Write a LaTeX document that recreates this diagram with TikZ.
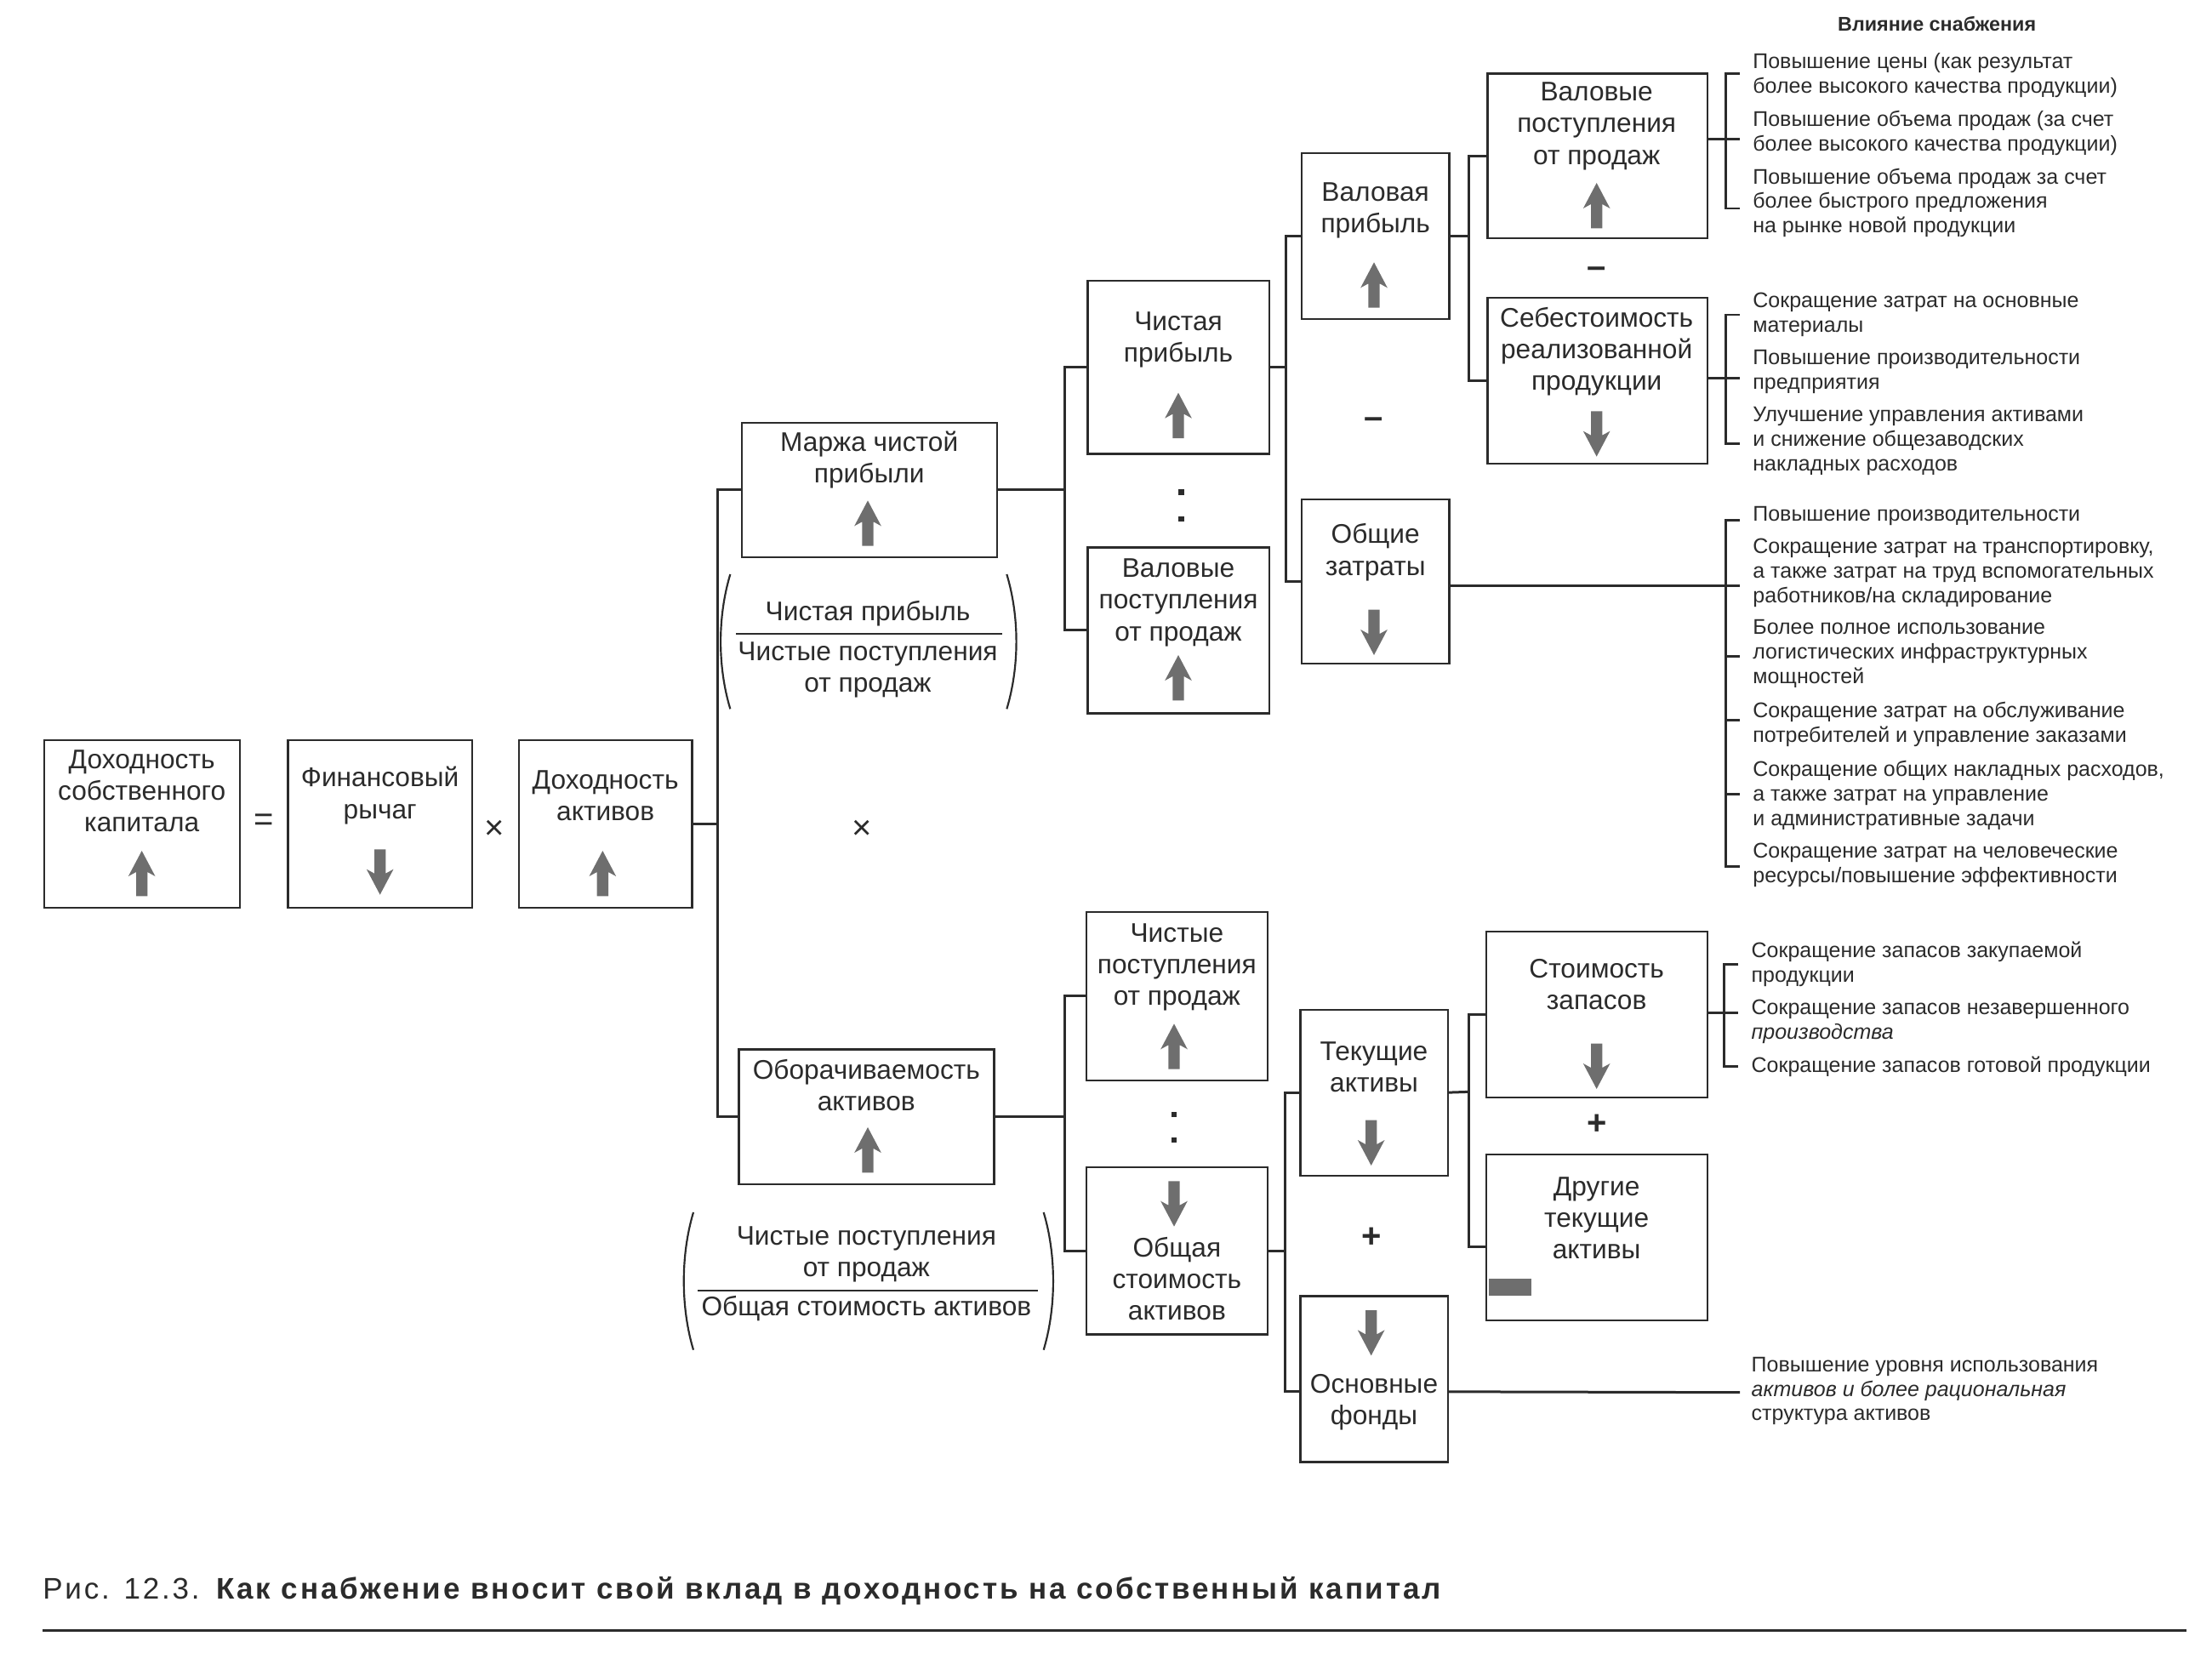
\documentclass[tikz,border=0pt]{standalone}
\usepackage{fontspec}
\setmainfont{Liberation Sans}
\newfontfamily\capfont[LetterSpace=8]{Liberation Sans}
\definecolor{ink}{HTML}{2B2B2B}
\definecolor{arr}{HTML}{6E6E6E}
\tikzset{
 box/.style={draw=ink, line width=1.4pt, inner sep=0pt, outer sep=0pt},
 conn/.style={draw=ink, line width=1.8pt},
 brk/.style={draw=ink, line width=1.5pt},
 btxt/.style={text=ink, font=\fontsize{19}{22.3}\selectfont, align=center, inner sep=0pt},
 rtxt/.style={text=ink, font=\fontsize{15}{17.3}\selectfont, align=left, anchor=west, inner sep=0pt},
 sym/.style={text=ink, font=\fontsize{24}{26}\selectfont, inner sep=0pt},
 uparr/.pic={\fill[arr] (-4,0) -- (-4,-17) -- (-9.5,-14) -- (0,-32) -- (9.5,-14) -- (4,-17) -- (4,0) -- cycle;},
 dnarr/.pic={\fill[arr] (-4,0) -- (-4,17) -- (-9.5,14) -- (0,32) -- (9.5,14) -- (4,17) -- (4,0) -- cycle;},
}
\newcommand\mybox[5]{\node[box, minimum width={(#4-#2)*1pt}, minimum height={(#5-#3)*1pt}] (#1) at ({(#2+#4)/2},{(#3+#5)/2}) {};}
\begin{document}
\begin{tikzpicture}[x=1pt,y=-1pt]
\useasboundingbox (0,0) rectangle (1560,1182);
% boxes
\mybox{dsk}{31}{522}{169}{640}
\mybox{fr}{203}{522}{333}{640}
\mybox{da}{366}{522}{488}{640}
\mybox{mchp}{523}{298}{703}{393}
\mybox{ob}{521}{740}{701}{835}
\mybox{chp}{767}{198}{895}{320}
\mybox{vpa}{767}{386}{895}{503}
\mybox{vpr}{918}{108}{1022}{225}
\mybox{oz}{918}{352}{1022}{468}
\mybox{vpb}{1049}{52}{1204}{168}
\mybox{seb}{1049}{210}{1204}{327}
\mybox{chps}{766}{643}{894}{762}
\mybox{osa}{766}{823}{894}{941}
\mybox{ta}{917}{712}{1021}{829}
\mybox{of}{917}{914}{1021}{1031}
\mybox{sz}{1048}{657}{1204}{774}
\mybox{dta}{1048}{814}{1204}{931}
% box texts
\node[btxt] (dsk-t) at (100,558) {Доходность\\собственного\\капитала};
\node[btxt] (fr-t) at (268,561) {Финансовый\\рычаг};
\node[btxt] (da-t) at (427,561) {Доходность\\активов};
\node[btxt] (mchp-t) at (613,324.5) {Маржа чистой\\прибыли};
\node[btxt] (ob-t) at (611,765.5) {Оборачиваемость\\активов};
\node[btxt] (chp-t) at (831,239.5) {Чистая\\прибыль};
\node[btxt] (vpa-t) at (831,425) {Валовые\\поступления\\от продаж};
\node[btxt] (vpr-t) at (970,148.5) {Валовая\\прибыль};
\node[btxt] (oz-t) at (970,389.5) {Общие\\затраты};
\node[btxt] (vpb-t) at (1126,89) {Валовые\\поступления\\от продаж};
\node[btxt] (seb-t) at (1126,248) {Себестоимость\\реализованной\\продукции};
\node[btxt] (chps-t) at (830,682) {Чистые\\поступления\\от продаж};
\node[btxt] (osa-t) at (830,902) {Общая\\стоимость\\активов};
\node[btxt] (ta-t) at (969,752.5) {Текущие\\активы};
\node[btxt] (of-t) at (969,989) {Основные\\фонды};
\node[btxt] (sz-t) at (1126,694.5) {Стоимость\\запасов};
\node[btxt] (dta-t) at (1126,859) {Другие\\текущие\\активы};
% arrows
\pic at (100,632) {uparr};
\pic at (268,599) {dnarr};
\pic at (425,632) {uparr};
\pic at (612,385) {uparr};
\pic at (612,827) {uparr};
\pic at (831,309) {uparr};
\pic at (831,494) {uparr};
\pic at (969,217) {uparr};
\pic at (969,430) {dnarr};
\pic at (1126,161) {uparr};
\pic at (1126,290) {dnarr};
\pic at (828,754) {uparr};
\pic at (828,833) {dnarr};
\pic at (967,790) {dnarr};
\pic at (967,924) {dnarr};
\pic at (1126,736) {dnarr};
\fill[arr] (1050,902) rectangle (1080,914);
% symbols
\node[sym] (eq) at (186,580) {=};
\node[sym] (x1) at (349,585) {×};
\node[sym] (x2) at (608,585) {×};
\node[sym] (m1) at (969,298) {\textbf{–}};
\node[sym] (m2) at (1126,192) {\textbf{–}};
\node[sym] (p1) at (1126,793) {\textbf{+}};
\node[sym] (p2) at (967,873) {\textbf{+}};
\fill[ink] (831,345) rectangle (835,349);
\fill[ink] (831,364) rectangle (835,368);
\fill[ink] (826,784) rectangle (830,788);
\fill[ink] (826,802) rectangle (830,806);
% connectors
\coordinate (j1) at (506,581);
\draw[conn] (da.east) -- (j1);
\draw[conn] (mchp.west) -| (j1) |- (ob.west);
\coordinate (j2) at (751,345.5);
\draw[conn] (mchp.east) -- (j2);
\draw[conn] (chp.west) -| (j2) |- (vpa.west);
\coordinate (j3) at (907,259);
\draw[conn] (chp.east) -- (j3);
\draw[conn] (vpr.west) -| (j3) |- (oz.west);
\coordinate (j4) at (1036,166.5);
\draw[conn] (vpr.east) -- (j4);
\draw[conn] (vpb.west) -| (j4) |- (seb.west);
\coordinate (j5) at (751,787.5);
\draw[conn] (ob.east) -- (j5);
\draw[conn] (chps.west) -| (j5) |- (osa.west);
\coordinate (j6) at (906,882);
\draw[conn] (osa.east) -- (j6);
\draw[conn] (ta.west) -| (j6) |- ([yshift=-9pt]of.west);
\coordinate (j7) at (1036,770);
\draw[conn] (ta.east) -- (j7);
\draw[conn] (sz.west) -| (j7) |- ([yshift=-7pt]dta.west);
% right brackets
\coordinate (ba) at (1227,98);
\draw[conn] (vpb.east |- ba) -- (ba);
\draw[brk] (1227,52) -- (1217,52) -- (1217,147) -- (1227,147);
\coordinate (bb) at (1227,267);
\draw[conn] (seb.east |- bb) -- (bb);
\draw[brk] (1227,222) -- (1217,222) -- (1217,313) -- (1227,313);
\coordinate (bc) at (1227,413);
\draw[conn] (oz.east |- bc) -- (bc);
\draw[brk] (1227,367) -- (1217,367) -- (1217,611) -- (1227,611);
\draw[brk] (1217,463) -- (1227,463);
\draw[brk] (1217,508) -- (1227,508);
\draw[brk] (1217,560) -- (1227,560);
\coordinate (bd) at (1226,714);
\draw[conn] (sz.east |- bd) -- (bd);
\draw[brk] (1226,680) -- (1216,680) -- (1216,752) -- (1226,752);
\coordinate (be) at (1227,982);
\draw[conn] ([yshift=-9pt]of.east) -- (be);
% header
\node[text=ink, font=\bfseries\fontsize{14}{16}\selectfont, inner sep=0pt] (hdr) at (1366,17) {Влияние снабжения};
% right texts
\node[rtxt] (a1) at (1236,53) {Повышение цены (как результат\\более высокого качества продукции)};
\node[rtxt] (a2) at (1236,94) {Повышение объема продаж (за счет\\более высокого качества продукции)};
\node[rtxt] (a3) at (1236,143) {Повышение объема продаж за счет\\более быстрого предложения\\на рынке новой продукции};
\node[rtxt] (b1) at (1236,222) {Сокращение затрат на основные\\материалы};
\node[rtxt] (b2) at (1236,262) {Повышение производительности\\предприятия};
\node[rtxt] (b3) at (1236,311) {Улучшение управления активами\\и снижение общезаводских\\накладных расходов};
\node[rtxt] (c1) at (1236,364) {Повышение производительности};
\node[rtxt] (c2) at (1236,404) {Сокращение затрат на транспортировку,\\а также затрат на труд вспомогательных\\работников/на складирование};
\node[rtxt] (c3) at (1236,461) {Более полное использование\\логистических инфраструктурных\\мощностей};
\node[rtxt] (c4) at (1236,511) {Сокращение затрат на обслуживание\\потребителей и управление заказами};
\node[rtxt] (c5) at (1236,561) {Сокращение общих накладных расходов,\\а также затрат на управление\\и административные задачи};
\node[rtxt] (c6) at (1236,610) {Сокращение затрат на человеческие\\ресурсы/повышение эффективности};
\node[rtxt] (d1) at (1235,680) {Сокращение запасов закупаемой\\продукции};
\node[rtxt] (d2) at (1235,720.5) {Сокращение запасов незавершенного\\\textit{производства}};
\node[rtxt] (d3) at (1235,752) {Сокращение запасов готовой продукции};
\node[rtxt] (e1) at (1235,981) {Повышение уровня использования\\\textit{активов и более рациональная}\\структура активов};
% fractions
\node[btxt] (f1n) at (612,433) {Чистая прибыль};
\draw[ink, line width=1.3pt] (519,447) -- (707,447);
\node[btxt] (f1d) at (612,472.5) {Чистые поступления\\от продаж};
\draw[ink, line width=1.3pt] (515,405) .. controls (506,435) and (506,470) .. (515,500);
\draw[ink, line width=1.3pt] (710,405) .. controls (719,435) and (719,470) .. (710,500);
\node[btxt] (f2n) at (611,884.5) {Чистые поступления\\от продаж};
\draw[ink, line width=1.3pt] (492,910) -- (732,910);
\node[btxt] (f2d) at (611,923) {Общая стоимость активов};
\draw[ink, line width=1.3pt] (489,855) .. controls (480,885) and (480,922) .. (489,952);
\draw[ink, line width=1.3pt] (736,855) .. controls (745,885) and (745,922) .. (736,952);
% caption
\node[anchor=west, text=ink, font=\capfont\fontsize{21}{24}\selectfont, inner sep=0pt] (cap) at (30,1122) {Рис. 12.3. \textbf{Как снабжение вносит свой вклад в доходность на собственный капитал}};
\draw[ink, line width=1.8pt] (30,1150) -- (1542,1150);
\end{tikzpicture}
\end{document}
